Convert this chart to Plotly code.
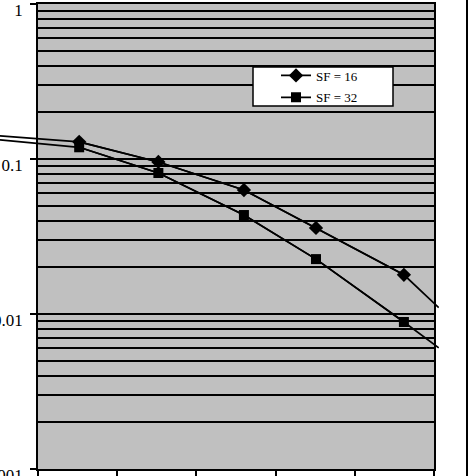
import plotly.graph_objects as go

# ---- data ----
x_vals = [0.52, 1.52, 2.60, 3.51, 4.62]
sf16 = [0.129, 0.0957, 0.0631, 0.0359, 0.0179]
sf32 = [0.119, 0.0812, 0.0435, 0.0226, 0.00888]
# curves continue past the plotted x range (they run out to the image edges)
x_outer = [-0.48, 5.06]
sf16_outer = [0.141, 0.0110]
sf32_outer = [0.133, 0.00604]

series_names = ["SF = 16", "SF = 32"]
y_tickvals = [0.001, 0.01, 0.1, 1]
y_ticktext = ["0.001", "0.01", "0.1", "1"]
y_minor = [m * 10.0 ** e for e in (-3, -2, -1) for m in range(2, 10)]
x_tickvals = [0, 1, 2, 3, 4, 5]

W, H = 474, 476
px_left, px_right, px_top, px_bottom = 38, 434, 4, 469
x_range = [0, 5]
unit = (px_right - px_left) / (x_range[1] - x_range[0])
ext_right = 439
# legend box (pixels)
lg_l, lg_r, lg_t, lg_b = 253, 393, 67, 106

fig = go.Figure()
fig.add_trace(go.Scatter(x=[], y=[], showlegend=False))  # anchor main subplot

for name, vals, outer, sym in [(series_names[0], sf16, sf16_outer, "diamond"),
                               (series_names[1], sf32, sf32_outer, "square")]:
    fig.add_trace(go.Scatter(
        x=[x_outer[0]] + x_vals + [x_outer[1]],
        y=[outer[0]] + vals + [outer[1]],
        mode="lines", line=dict(color="black", width=1.7),
        xaxis="x2", yaxis="y2", showlegend=False, hoverinfo="skip"))
    fig.add_trace(go.Scatter(
        x=x_vals, y=vals, name=name, legendgroup=name,
        mode="lines+markers",
        line=dict(color="black", width=1.7),
        marker=dict(symbol=sym, size=10 if sym == "square" else 11, color="black"),
        xaxis="x2", yaxis="y2"))

axis_line = dict(showline=True, linecolor="black", linewidth=1.5, mirror=True)
fig.update_layout(
    width=W, height=H,
    margin=dict(l=0, r=0, t=0, b=0, autoexpand=False),
    paper_bgcolor="white",
    plot_bgcolor="rgba(0,0,0,0)",
    showlegend=True,
    xaxis=dict(domain=[px_left / W, px_right / W], range=x_range,
               tickvals=x_tickvals, ticks="outside", ticklen=7, tickwidth=1.5,
               tickcolor="black", showticklabels=False, showgrid=False,
               zeroline=False, automargin=False, **axis_line),
    yaxis=dict(type="log", range=[-3, 0],
               domain=[(H - px_bottom) / H, (H - px_top) / H],
               tickvals=y_tickvals, ticktext=y_ticktext,
               ticks="outside", ticklen=6, tickwidth=1.5, tickcolor="black",
               tickfont=dict(family="Liberation Serif", size=17, color="black"),
               ticklabelstandoff=4, ticklabelshift=6, ticklabeloverflow="allow",
               showgrid=True, gridcolor="black", gridwidth=1.5,
               minor=dict(tickvals=y_minor, showgrid=True, gridcolor="black",
                          gridwidth=1.5, ticks=""),
               zeroline=False, automargin=False, **axis_line),
    xaxis2=dict(domain=[0, ext_right / W],
                range=[x_range[0] - px_left / unit,
                       x_range[0] + (ext_right - px_left) / unit],
                visible=False, anchor="y2", automargin=False),
    yaxis2=dict(type="log", range=[-3, 0],
                domain=[(H - px_bottom) / H, (H - px_top) / H],
                visible=False, anchor="x2", automargin=False),
    legend=dict(x=lg_l / W, y=(H - 60.5) / H, xanchor="left", yanchor="top",
                bgcolor="rgba(0,0,0,0)", borderwidth=0,
                font=dict(family="Liberation Serif", size=13, color="black"),
                indentation=23, tracegroupgap=2),
    shapes=[
        dict(type="rect", xref="x domain", yref="y domain", x0=0, x1=1, y0=0, y1=1,
             fillcolor="#c0c0c0", line=dict(width=0), layer="below"),
        dict(type="rect", xref="paper", yref="paper",
             x0=lg_l / W, x1=lg_r / W, y0=(H - lg_b) / H, y1=(H - lg_t) / H,
             fillcolor="white", line=dict(color="black", width=1.5), layer="above"),
        dict(type="line", xref="paper", yref="paper", x0=467 / W, x1=467 / W,
             y0=0, y1=1, line=dict(color="black", width=2)),
    ],
)

fig.write_html("out.html", config={"displayModeBar": False},
               post_script="document.body.style.margin='0';document.body.style.padding='0';")
